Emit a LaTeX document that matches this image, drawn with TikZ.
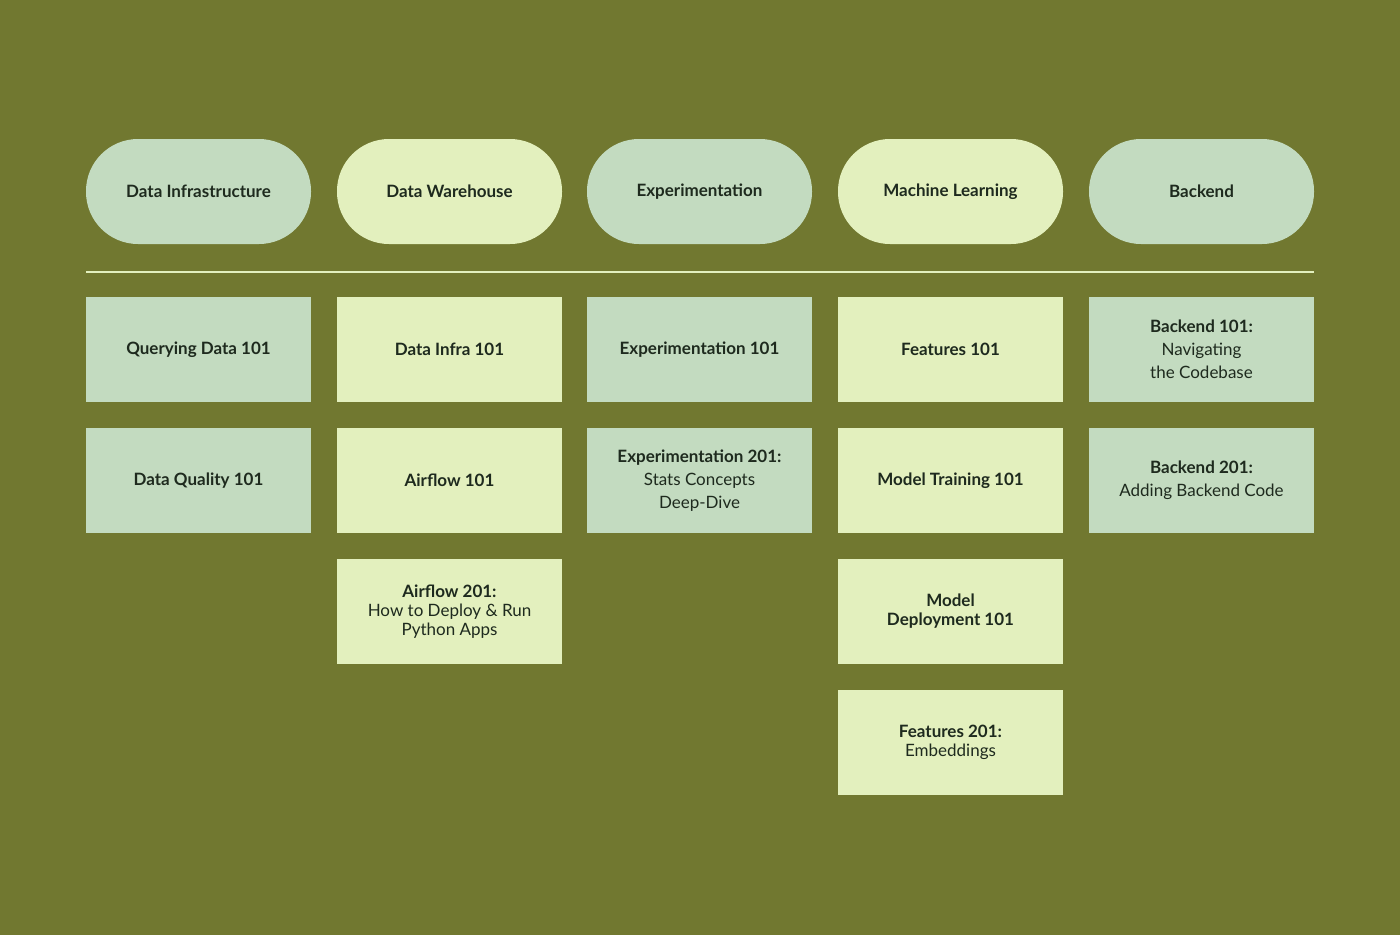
\documentclass[tikz,border=0pt]{standalone}
\usepackage{fontspec}
\setmainfont{Lato}
\definecolor{bg}{HTML}{717830}
\definecolor{sage}{HTML}{C3DBC0}
\definecolor{lite}{HTML}{E3F0BE}
\definecolor{ink}{HTML}{1E2A1E}
\begin{document}
\begin{tikzpicture}[x=1pt,y=-1pt,
  pill/.style={rounded corners=52pt,minimum width=225pt,minimum height=105pt,inner sep=0pt,text=ink,font=\fontsize{17}{20}\selectfont\bfseries},
  box/.style={minimum width=225pt,minimum height=105pt,inner sep=0pt,align=center,text=ink,font=\fontsize{17}{20}\selectfont},
  every node/.append style={anchor=center}]
\fill[bg] (0,0) rectangle (1400,935);
\useasboundingbox (0,0) rectangle (1400,935);
\node[pill,fill=sage] (p1) at (198.5,191.5) {Data Infrastructure};
\node[pill,fill=lite] (p2) at (449.5,191.5) {Data Warehouse};
\node[pill,fill=sage] (p3) at (699.5,191.5) {Experimentation};
\node[pill,fill=lite] (p4) at (950.5,191.5) {Machine Learning};
\node[pill,fill=sage] (p5) at (1201.5,191.5) {Backend};
\draw[lite,line width=2.5pt] (86,272) coordinate (l1) -- (1314,272) coordinate (l2);
\node[box,fill=sage] (a1) at (198.5,349.5) {\textbf{Querying Data 101}};
\node[box,fill=sage] (a2) at (198.5,480.5) {\textbf{Data Quality 101}};
\node[box,fill=lite] (b1) at (449.5,349.5) {\textbf{Data Infra 101}};
\node[box,fill=lite] (b2) at (449.5,480.5) {\textbf{Airflow 101}};
\node[box,fill=lite] (b3) at (449.5,611.5) {\textbf{Airflow 201:}\\[-1pt]How to Deploy \& Run\\[-1pt]Python Apps};
\node[box,fill=sage] (c1) at (699.5,349.5) {\textbf{Experimentation 101}};
\node[box,fill=sage] (c2) at (699.5,480.5) {\textbf{Experimentation 201:}\\[3pt]Stats Concepts\\[3pt]Deep-Dive};
\node[box,fill=lite] (d1) at (950.5,349.5) {\textbf{Features 101}};
\node[box,fill=lite] (d2) at (950.5,480.5) {\textbf{Model Training 101}};
\node[box,fill=lite] (d3) at (950.5,611.5) {\textbf{Model}\\[-1pt]\textbf{Deployment 101}};
\node[box,fill=lite] (d4) at (950.5,742.5) {\textbf{Features 201:}\\[-1pt]Embeddings};
\node[box,fill=sage] (e1) at (1201.5,349.5) {\textbf{Backend 101:}\\[3pt]Navigating\\[3pt]the Codebase};
\node[box,fill=sage] (e2) at (1201.5,480.5) {\textbf{Backend 201:}\\[3pt]Adding Backend Code};
\end{tikzpicture}
\end{document}
